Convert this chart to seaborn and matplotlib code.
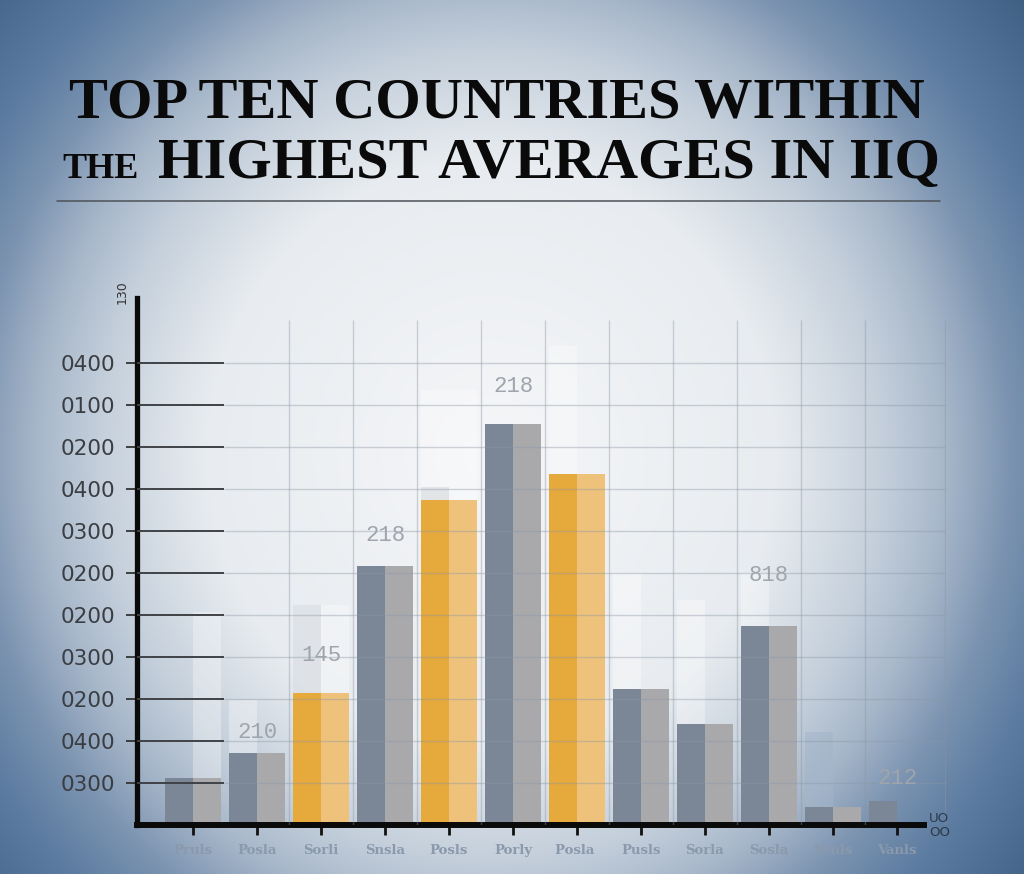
import numpy as np
import pandas as pd
import matplotlib
matplotlib.use("Agg")
import matplotlib.pyplot as plt
import seaborn as sns
from matplotlib.colors import to_rgb

# ---------------- data ----------------
countries = ["Pruls", "Posla", "Sorli", "Snsla", "Posls", "Porly",
             "Posla ", "Pusls", "Sorla", "Sosla", "Venls", "Vanls"]
left_vals = [1.12, 1.71, 3.14, 6.17, 7.74, 9.55, 8.36, 3.24, 2.40, 4.74, 0.43, 0.57]
right_vals = [1.12, 1.71, 3.14, 6.17, 7.74, 9.55, 8.36, 3.24, 2.40, 4.74, 0.43, 0.0]
ghost_left = [0, 2.98, 5.24, 0, 10.36, 0, 11.40, 6.0, 5.36, 6.0, 2.21, 0]
ghost_right = [5.07, 0, 5.24, 0, 10.36, 0, 0, 0, 0, 0, 0, 0]
shade_left = [0, 0, 5.24, 0, 8.05, 0, 0, 0, 0, 0, 0, 0]
highlight = [False, False, True, False, True, False, True, False, False, False, False, False]
ytick_vals = list(range(1, 12))
ytick_labels = ["0300", "0400", "0200", "0300", "0200", "0200",
                "0300", "0400", "0200", "0100", "0400"]
value_label_bars = [1, 2, 3, 5, 9, 11]
value_label_texts = ["210", "145", "218", "218", "818", "212"]

# ---------------- layout / style ----------------
label_offsets_px = [21, 38, 30, 37, 50, 23]
W, H = 1024, 874
sns.set_style("white")
plt.rcParams["font.family"] = ["DejaVu Sans"]

fig = plt.figure(figsize=(W / 100, H / 100), dpi=100)

# background radial gradient
bg = fig.add_axes([0, 0, 1, 1], zorder=-10)
yy, xx = np.mgrid[0:1:400j, 0:1:470j]
r = np.sqrt(((xx - 0.48) / 0.62) ** 2 + ((yy - 0.52) / 0.75) ** 2)
stops = [0.0, 0.45, 0.62, 0.72, 0.82, 0.92, 1.1]
cols = [to_rgb(c) for c in ["#f5f6f8", "#e8ecf0", "#c4cfdb", "#a6b6c9",
                            "#7b93b0", "#5c7ca1", "#3e5e82"]]
img = np.zeros(r.shape + (3,))
for k in range(3):
    img[..., k] = np.interp(r, stops, [c[k] for c in cols])
bg.imshow(img, aspect="auto", extent=[0, 1, 1, 0], interpolation="bilinear")
bg.set_xlim(0, 1)
bg.set_ylim(1, 0)
bg.axis("off")

# main axes
x0 = 137 / W
x_right = 193 + 64 * 11.77
ax = fig.add_axes([x0, 1 - 825 / H, (x_right - 137) / W, (825 - 298) / H])
ax.set_zorder(1)
ax.patch.set_alpha(0)

n = len(countries)

def long_df(lv, rv):
    return pd.DataFrame({
        "country": countries * 2,
        "half": ["L"] * n + ["R"] * n,
        "value": list(lv) + list(rv),
    })

# ghost bars
sns.barplot(data=long_df(ghost_left, ghost_right), x="country", y="value", hue="half",
            order=countries, hue_order=["L", "R"], width=0.86, gap=0, dodge=True,
            palette=["white", "white"], legend=False, errorbar=None, linewidth=0, ax=ax)
ghost_cont = list(ax.containers)
for cont in ghost_cont:
    for i, p in enumerate(cont.patches):
        p.set_zorder(1.2)
        if i == 10:
            p.set_facecolor("#a3b5ca")
            p.set_alpha(0.5)
        else:
            p.set_facecolor("#ffffff")
            p.set_alpha(0.32)

sns.barplot(data=long_df(shade_left, [0] * n), x="country", y="value", hue="half",
            order=countries, hue_order=["L", "R"], width=0.86, gap=0, dodge=True,
            palette=["#c4cbd4", "#c4cbd4"], legend=False, errorbar=None, linewidth=0, ax=ax)
shade_cont = list(ax.containers)[len(ghost_cont):]
for cont in shade_cont:
    for p in cont.patches:
        p.set_zorder(1.3)
        p.set_alpha(0.4)

# main bars
sns.barplot(data=long_df(left_vals, right_vals), x="country", y="value", hue="half",
            order=countries, hue_order=["L", "R"], width=0.86, gap=0, dodge=True,
            palette=["#77869a", "#a8a9ad"], legend=False, errorbar=None, linewidth=0, ax=ax)
main_cont = list(ax.containers)[len(ghost_cont) + len(shade_cont):]
for j, cont in enumerate(main_cont):
    for i, p in enumerate(cont.patches):
        p.set_zorder(2)
        if highlight[i]:
            p.set_facecolor("#e6a93c" if j == 0 else "#eec27b")

# grid
ax.hlines(ytick_vals, 0.48, 11.75, color="#8c97a5", lw=1.0, alpha=0.4, zorder=3)
ax.vlines(list(np.arange(1.5, 11, 1.0)) + [11.75], 0, 12.02, color="#8c97a5",
          lw=1.0, alpha=0.4, zorder=3)
ax.hlines(ytick_vals, -0.875, 0.48, color="#3f4246", lw=1.4, zorder=3)

# value labels
for b, t, off in zip(value_label_bars, value_label_texts, label_offsets_px):
    top = max(left_vals[b], right_vals[b])
    ax.annotate(t, (b, top), xytext=(0, off), textcoords="offset pixels",
                ha="center", va="center", fontsize=16, color="#9fa5ad",
                family="Liberation Mono", zorder=5)

# axes formatting
ax.set_xlim(-0.875, 11.77)
ax.set_ylim(0, 12.55)
ax.set_xlabel("")
ax.set_ylabel("")
ax.set_yticks(ytick_vals)
ax.set_yticklabels(ytick_labels)
ax.tick_params(axis="y", length=8, width=1.3, color="#333333", pad=8,
               labelsize=15.5, labelcolor="#3a3d42", left=True)
ax.tick_params(axis="x", length=7.5, width=2, color="#111111", pad=6,
               labelsize=9.5, labelcolor="#8a99ab", bottom=True)
for lab in ax.get_xticklabels():
    lab.set_fontfamily("DejaVu Serif")
    lab.set_fontweight("bold")

for s in ["top", "right"]:
    ax.spines[s].set_visible(False)
ax.spines["left"].set_linewidth(3.8)
ax.spines["left"].set_color("#0a0a0a")
ax.spines["bottom"].set_linewidth(4.3)
ax.spines["bottom"].set_color("#0a0a0a")
ax.spines["bottom"].set_bounds(-0.875, 11.42)
ax.spines["left"].set_bounds(0, 12.55)

# small axis texts
fig.text(122 / W, 1 - 292 / H, "130", rotation=90, ha="center", va="center",
         fontsize=9, color="#333333")
fig.text(929 / W, 1 - 826 / H, "UO\nOO", ha="left", va="center",
         fontsize=9.5, color="#2f3a48", linespacing=1.1)

# title
tfont = dict(family="Liberation Serif", weight="bold", color="#0a0a0a")
fig.text(497 / W, 1 - 118 / H, "TOP TEN COUNTRIES WITHIN", ha="center",
         va="baseline", fontsize=42, **tfont)
fig.text(62 / W, 1 - 178 / H, "THE", ha="left", va="baseline", fontsize=26, **tfont)
fig.text(940 / W, 1 - 178 / H, "HIGHEST AVERAGES IN IIQ", ha="right",
         va="baseline", fontsize=42, **tfont)
fig.add_artist(plt.Line2D([57 / W, 940 / W], [1 - 201 / H, 1 - 201 / H],
                          color="#4d5258", lw=1.1))

fig.savefig("out.png", dpi=100)
